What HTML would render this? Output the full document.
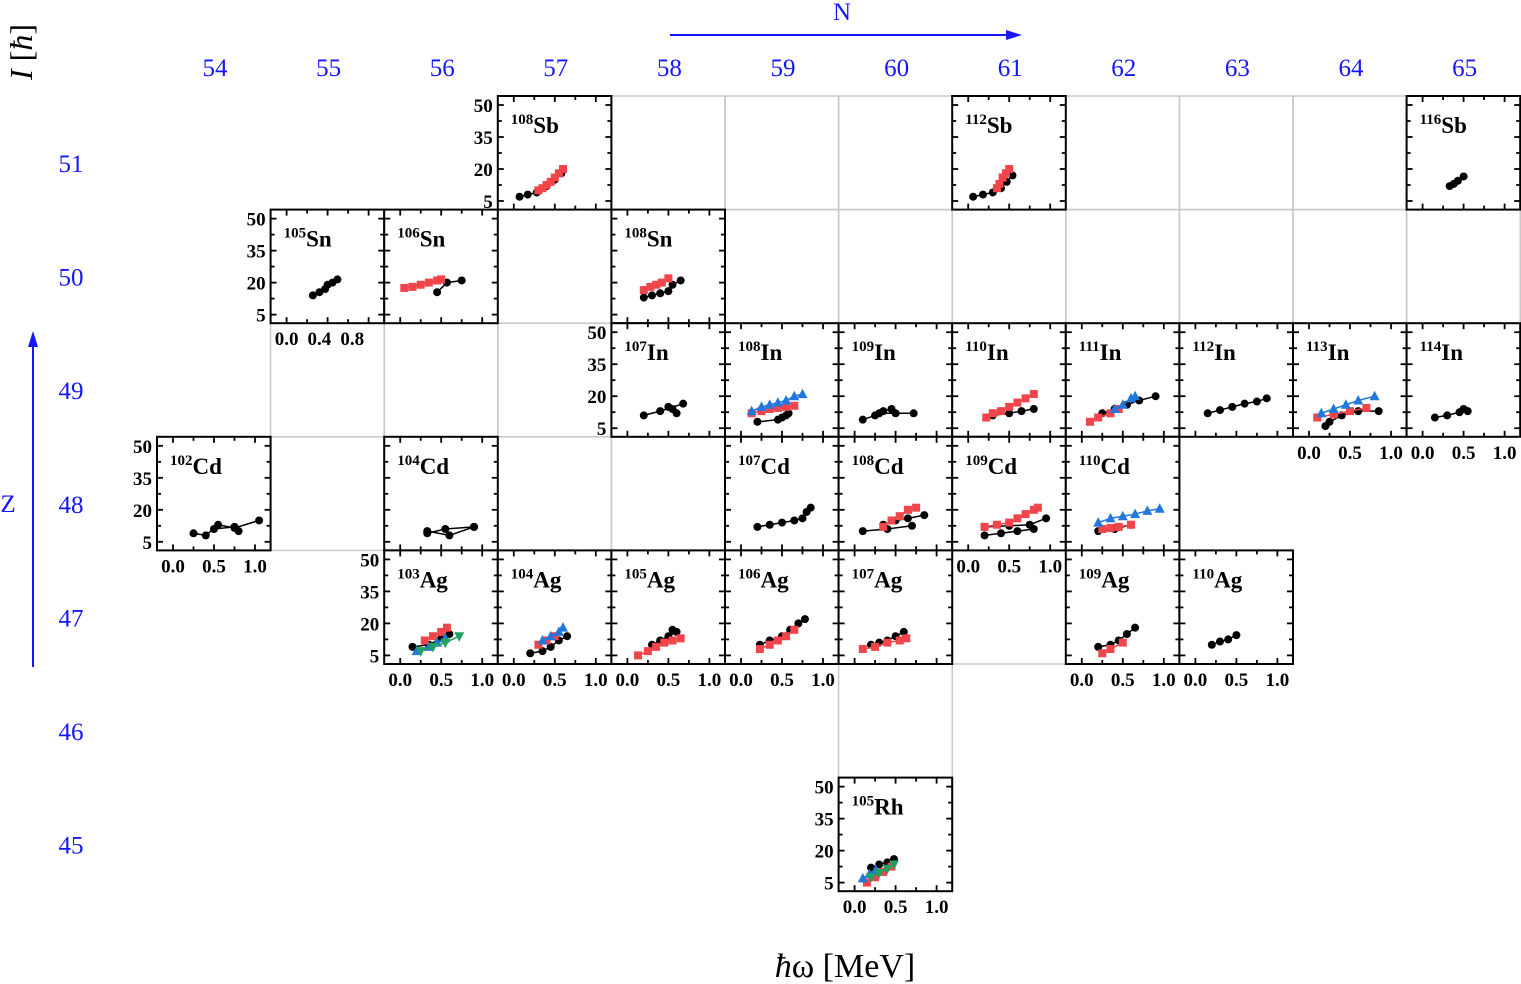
<!DOCTYPE html>
<html><head><meta charset="utf-8"><style>
html,body{margin:0;padding:0;background:#fff;}
svg{display:block;font-family:"Liberation Serif",serif;}
</style></head><body>
<svg id="s" width="1521" height="984" xmlns="http://www.w3.org/2000/svg"></svg>
<script>
const S=document.getElementById('s');let h='';
const CW=113.6;
const X0=N=>157+(N-54)*CW, Y0=Z=>96+(51-Z)*CW;
const gray=[[51,58],[51,59],[51,60],[51,62],[51,63],[51,64],[50,57],[50,59],[50,60],[50,61],[50,62],[50,63],[50,64],[50,65],[49,55],[49,56],[49,57],[48,55],[48,57],[48,58],[47,61],[46,60]];
gray.forEach(([Z,N])=>{h+=`<rect x="${X0(N)}" y="${Y0(Z)}" width="${CW}" height="${CW}" fill="none" stroke="#c8c8c8" stroke-width="1.5"/>`;});
for(let N=54;N<=65;N++)h+=`<text x="${X0(N)+58}" y="76" font-size="25" fill="#1515ff" text-anchor="middle">${N}</text>`;
for(let Z=51;Z>=45;Z--)h+=`<text x="71" y="${Y0(Z)+76}" font-size="25" fill="#1515ff" text-anchor="middle">${Z}</text>`;
h+=`<line x1="670" y1="35" x2="1012" y2="35" stroke="#1515ff" stroke-width="2"/><polygon points="1022,35 1006,30 1006,40" fill="#1515ff"/>`;
h+=`<text x="842" y="20" font-size="25" fill="#1515ff" text-anchor="middle">N</text>`;
h+=`<line x1="33" y1="667" x2="33" y2="342" stroke="#1515ff" stroke-width="2"/><polygon points="33,331 28,347 38,347" fill="#1515ff"/>`;
h+=`<text x="8" y="512" font-size="25" fill="#1515ff" text-anchor="middle">Z</text>`;
h+=`<text transform="translate(32,52) rotate(-90)" font-size="32" text-anchor="middle"><tspan font-style="italic">I</tspan> [<tspan font-style="italic">ħ</tspan>]</text>`;
h+=`<text x="845" y="977" font-size="34" text-anchor="middle"><tspan font-style="italic">ħ</tspan>ω [MeV]</text>`;
const nuc=[
[51,57,'108','Sb',{k:[[.07,7],[.17,8],[.28,9],[.4,12],[.5,15],[.58,18]],r:[[.3,10],[.35,11],[.4,12.5],[.45,14],[.5,16],[.55,18],[.6,20]]},1,0],
[51,61,'112','Sb',{k:[[.06,7],[.18,8],[.3,9],[.4,11],[.47,14],[.54,17]],r:[[.35,11],[.38,13],[.42,16],[.46,18],[.5,20]]},0,0],
[51,65,'116','Sb',{k:[[.33,12],[.38,13],[.43,14.5],[.5,16.5]]},0,0],
[50,55,'105','Sn',{k:[[.32,14],[.4,15.5],[.47,17],[.5,19],[.56,20],[.62,21.5]]},1,2],
[50,56,'106','Sn',{r:[[.05,17.5],[.15,18],[.25,19],[.35,20],[.45,21],[.5,21.5]],k:[[.45,15.5],[.57,20],[.75,21]]},0,0],
[50,58,'108','Sn',{k:[[.2,13],[.3,14],[.4,15],[.5,16],[.55,19],[.65,21]],r:[[.2,16.5],[.28,18],[.35,19],[.42,20],[.5,22]]},0,0],
[49,58,'107','In',{k:[[.2,11],[.4,13],[.68,16.5]],k2:[[.5,15],[.55,14],[.6,12]]},1,0],
[49,59,'108','In',{k:[[.2,8],[.45,9],[.5,10],[.55,11],[.58,12]],r:[[.13,12],[.25,13],[.35,14],[.45,14.5],[.55,15],[.65,15.5]],b:[[.13,13],[.25,15],[.35,16],[.45,17],[.55,18],[.65,20],[.75,21]]},0,0],
[49,60,'109','In',{k:[[.1,9],[.25,11],[.35,13],[.45,14]],k2:[[.3,12],[.5,12],[.72,12]]},0,0],
[49,61,'110','In',{k:[[.3,11],[.5,12],[.65,13],[.8,14]],r:[[.22,10],[.3,12],[.4,13],[.5,15],[.6,17],[.7,19],[.8,21]]},0,0],
[49,62,'111','In',{r:[[.1,8],[.2,10],[.35,12],[.45,14]],k:[[.25,12],[.4,14],[.55,16],[.7,18],[.9,20]],b:[[.4,14],[.5,16],[.6,19],[.65,20]]},0,0],
[49,63,'112','In',{k:[[.15,12],[.3,13.5],[.45,15],[.6,16.5],[.75,17.5],[.87,19]]},0,0],
[49,64,'113','In',{r:[[.1,10],[.3,11.5],[.5,13],[.7,14.5]],b:[[.15,12],[.3,14],[.45,16],[.6,18],[.8,20]],k:[[.2,6],[.25,8],[.4,11],[.6,13],[.85,13]]},0,1],
[49,65,'114','In',{k:[[.15,10],[.3,11],[.45,12.5],[.5,14],[.55,13]]},0,1],
[48,54,'102','Cd',{k:[[.25,9],[.4,8],[.55,13],[.75,11.5],[1.05,15]],k2:[[.5,11],[.75,12],[.8,10]]},1,1],
[48,56,'104','Cd',{k:[[.33,9],[.55,11],[.9,12]],k2:[[.33,10],[.6,8],[.9,12]]},0,0],
[48,59,'107','Cd',{k:[[.2,12],[.35,13],[.5,14],[.65,15],[.75,16],[.8,19],[.85,21]]},0,0],
[48,60,'108','Cd',{k:[[.1,10],[.4,11],[.7,12.5]],k2:[[.35,13],[.5,15],[.65,16],[.85,17.5]],r:[[.35,12],[.45,15],[.55,17],[.65,20],[.75,21]]},0,0],
[48,61,'109','Cd',{k:[[.2,12],[.5,12.5],[.75,13],[.95,16]],k2:[[.2,8],[.4,9],[.6,10],[.8,11]],r:[[.2,12],[.35,13],[.5,14],[.6,16],[.7,18],[.8,20],[.85,21]]},0,1],
[48,62,'110','Cd',{b:[[.2,14],[.35,16],[.5,17],[.65,18],[.8,19.5],[.95,20.5]],k:[[.2,10],[.4,11],[.6,13]],r:[[.25,11],[.35,11.5],[.45,12],[.6,13]]},0,0],
[47,56,'103','Ag',{k:[[.15,9],[.35,10],[.5,13],[.6,15]],r:[[.3,12],[.4,14],[.5,16],[.57,18]],b:[[.2,7],[.35,9],[.45,11],[.55,13]],g:[[.25,7],[.4,9],[.55,11],[.72,14]]},1,1],
[47,57,'104','Ag',{k:[[.2,6],[.35,7],[.45,9],[.55,12],[.65,14]],r:[[.3,10],[.4,12],[.5,14]],b:[[.35,12],[.45,14],[.55,16],[.6,18]]},0,1],
[47,58,'105','Ag',{k:[[.3,10],[.4,12],[.5,14],[.6,16],[.55,17]],r:[[.13,5],[.25,7],[.35,9],[.45,11],[.55,12],[.65,13]]},0,1],
[47,59,'106','Ag',{k:[[.23,10],[.35,12],[.5,14],[.6,17],[.7,20],[.78,22]],r:[[.23,8],[.35,10],[.45,12],[.55,14],[.65,17]]},0,1],
[47,60,'107','Ag',{k:[[.2,10],[.3,11],[.4,12],[.5,14],[.6,16]],r:[[.1,8],[.25,9],[.4,11],[.55,12],[.63,13]]},0,0],
[47,62,'109','Ag',{k:[[.2,9],[.35,10],[.45,12],[.55,15],[.65,18]],r:[[.25,6],[.35,8],[.5,11]]},0,1],
[47,63,'110','Ag',{k:[[.2,10],[.3,11.5],[.4,12.5],[.5,14.5]]},0,1],
[45,60,'105','Rh',{k:[[.2,12],[.3,13.5],[.4,14.5],[.48,16]],r:[[.15,5],[.25,7.5],[.35,10],[.45,12.5]],b:[[.1,7],[.18,9],[.26,11]],g:[[.2,7.5],[.3,9.5],[.4,11.5],[.48,13.5]]},1,1]
];
const col={k:'#000',k2:'#000',r:'#f0454a',b:'#2277dd',g:'#22a060'};
nuc.forEach(([Z,N,A,E,d,yl,xl])=>{
 const x0=X0(N),y0=Y0(Z),x1=x0+CW,y1=y0+CW;
 const px=w=>x0+16+82*w, py=I=>y0+105-(I-5)*2.133;
 h+=`<rect x="${x0}" y="${y0}" width="${CW}" height="${CW}" fill="#fff" stroke="#000" stroke-width="2"/>`;
 for(let i=0;i<=4;i++){const X=px(i*0.25);if(X>x1-2)break;const L=(i%2==0)?6:4;
  h+=`<line x1="${X}" y1="${y1}" x2="${X}" y2="${y1-L}" stroke="#000" stroke-width="1.8"/><line x1="${X}" y1="${y0}" x2="${X}" y2="${y0+L}" stroke="#000" stroke-width="1.8"/>`;}
 for(let i=0;i<=6;i++){const Y=py(5+i*7.5);const L=(i%2==0)?6:4;
  h+=`<line x1="${x0}" y1="${Y}" x2="${x0+L}" y2="${Y}" stroke="#000" stroke-width="1.8"/><line x1="${x1}" y1="${Y}" x2="${x1-L}" y2="${Y}" stroke="#000" stroke-width="1.8"/>`;}
 h+=`<text x="${x0+13}" y="${y0+37}" font-weight="bold" font-size="23"><tspan font-size="15" dy="-9">${A}</tspan><tspan dy="9">${E}</tspan></text>`;
 for(const k of ['k2','k','r','b','g']){const p=d[k];if(!p)continue;const c=col[k];
  h+=`<polyline points="${p.map(q=>px(q[0])+','+py(q[1])).join(' ')}" fill="none" stroke="${k[0]=='k'?'#000':c}" stroke-width="1.5"/>`;
  p.forEach(q=>{const X=px(q[0]),Y=py(q[1]);
   if(k[0]=='k')h+=`<circle cx="${X}" cy="${Y}" r="4" fill="#000"/>`;
   else if(k=='r')h+=`<rect x="${X-4}" y="${Y-4}" width="8" height="8" fill="${c}"/>`;
   else if(k=='b')h+=`<polygon points="${X},${Y-5.5} ${X-5},${Y+4} ${X+5},${Y+4}" fill="${c}"/>`;
   else h+=`<polygon points="${X},${Y+5.5} ${X-5},${Y-4} ${X+5},${Y-4}" fill="${c}"/>`;});}
 if(yl)[5,20,35,50].forEach(I=>{h+=`<text x="${x0-5}" y="${py(I)+7}" font-size="19" font-weight="bold" text-anchor="end">${I}</text>`;});
 if(xl){const t=xl==2?[[0,'0.0'],[.4,'0.4'],[.8,'0.8']]:[[0,'0.0'],[.5,'0.5'],[1,'1.0']];
  t.forEach(([w,s])=>{h+=`<text x="${px(w)}" y="${y1+22}" font-size="19" font-weight="bold" text-anchor="middle">${s}</text>`;});}
});
S.innerHTML=h;
</script>
</body></html>
